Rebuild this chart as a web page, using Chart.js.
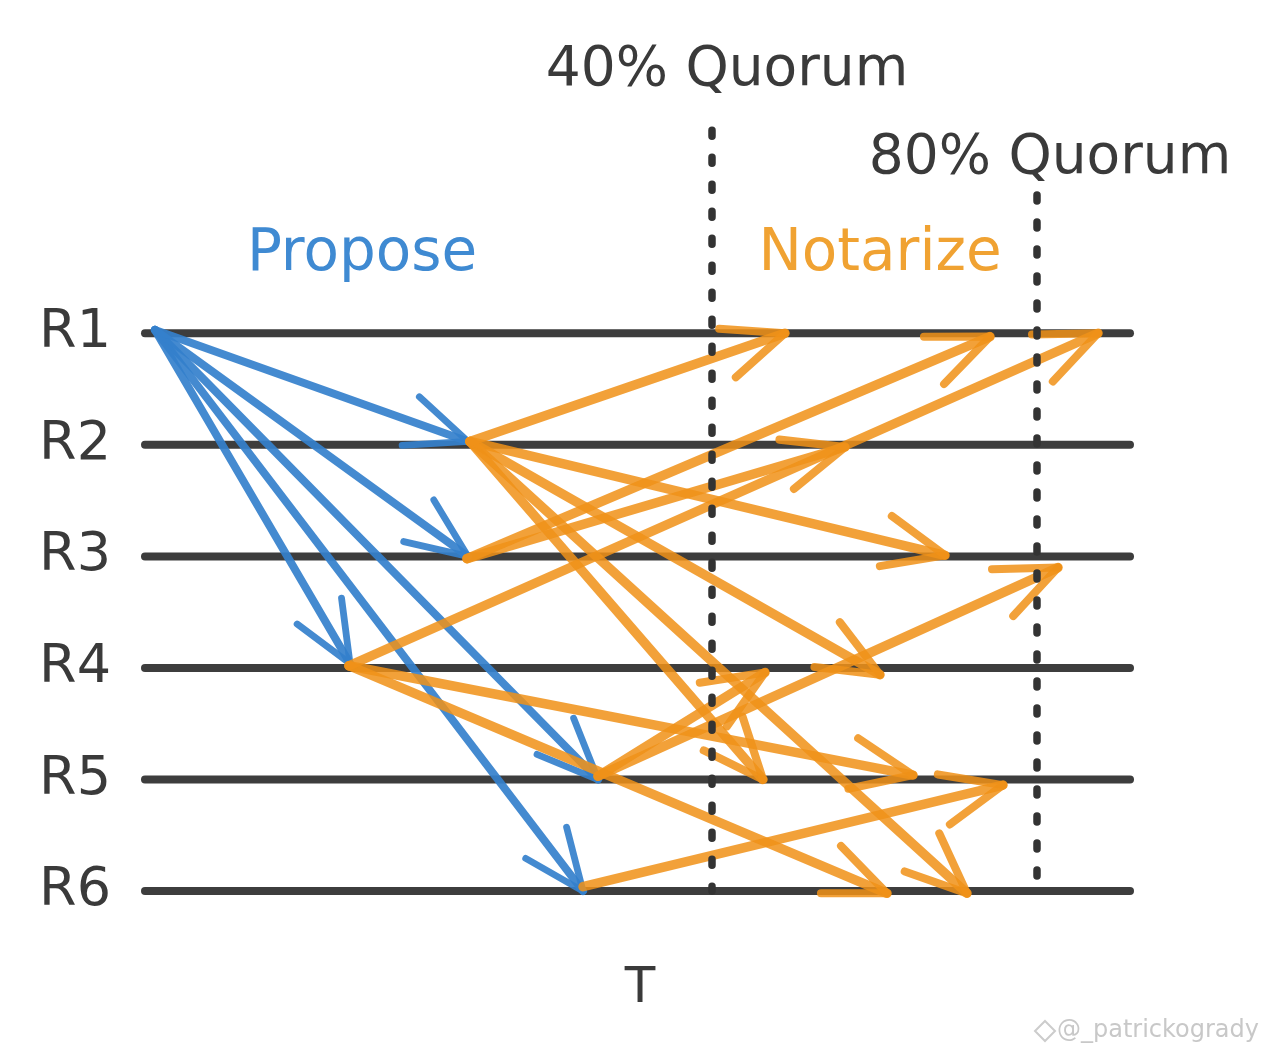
<!DOCTYPE html>
<html>
<head>
<meta charset="utf-8">
<script src="https://cdn.jsdelivr.net/npm/chart.js@4.4.1/dist/chart.umd.min.js"></script>
<style>
  html, body { margin: 0; padding: 0; background: #ffffff; }
  #wrap { width: 1267px; height: 1056px; position: relative; }
</style>
</head>
<body>
<div id="wrap"><canvas id="c"></canvas></div>
<script>
// ---------- data (time units on x, replica rows on y) ----------
const replicas = ['R1', 'R2', 'R3', 'R4', 'R5', 'R6'];

// Propose: leader R1 sends block to every other replica
const proposeFromT = 0.05;
const proposeFromRow = 0.97;
const proposeToT   = [3.18, 3.18, 2.00, 4.48, 4.33];
const proposeToRow = [1.97, 3.00, 3.96, 5.00, 6.00];

// Notarize votes: sender -> receiver
const voteSendT   = [3.20, 3.20, 3.20, 3.20, 3.20, 3.17, 3.17, 1.99, 1.99, 1.99, 4.48, 4.48, 4.33];
const voteSendRow = [1.97, 1.97, 1.97, 1.97, 1.97, 3.02, 3.02, 3.98, 3.98, 3.98, 4.97, 4.97, 5.96];
const voteRecvT   = [6.35, 7.95, 7.30, 6.13, 8.17, 8.40, 6.95, 9.48, 7.63, 7.37, 9.08, 6.15, 8.53];
const voteRecvRow = [1.00, 2.99, 4.06, 5.00, 6.02, 1.03, 2.02, 1.00, 4.96, 6.02, 3.10, 4.04, 5.05];

// Timeline extent and quorum markers
const timelineStart = -0.05;
const timelineEnd   = 9.80;
const quorumT       = [5.62, 8.87];
const quorumTopRow  = [-0.82, -0.24];
const quorumLabels  = ['40% Quorum', '80% Quorum'];
const phaseLabels   = ['Propose', 'Notarize'];
const timeLabel     = 'T';

// ---------- styles ----------
const BLUE = 'rgba(52,128,204,0.92)';
const ORANGE = 'rgba(240,146,24,0.86)';
const DARK = '#3d3d3d';
const FONT = '"DejaVu Sans", "Noto Sans", sans-serif';

const annotations = [
  { text: quorumLabels[0], x: 5.77, y: -1.355, color: '#3a3a3a', size: 55 },
  { text: quorumLabels[1], x: 9.00, y: -0.565, color: '#3a3a3a', size: 55 },
  { text: phaseLabels[0],  x: 2.12, y: 0.30, color: '#3f8ad2', size: 58 },
  { text: phaseLabels[1],  x: 7.30, y: 0.30, color: '#f0a232', size: 58 },
  { text: timeLabel,       x: 4.90, y: 6.88, color: '#3a3a3a', size: 50 }
];

// ---------- datasets ----------
const datasets = [];

quorumT.forEach((t, i) => {
  datasets.push({
    data: [{ x: t, y: quorumTopRow[i] }, { x: t, y: 6 }],
    borderColor: '#333333', borderWidth: 7.5, borderDash: [6, 21],
    borderCapStyle: 'round', order: 0
  });
});

voteSendT.forEach((t, i) => {
  datasets.push({
    data: [{ x: t, y: voteSendRow[i] }, { x: voteRecvT[i], y: voteRecvRow[i] }],
    borderColor: ORANGE, borderWidth: 9.5, borderCapStyle: 'round',
    arrow: true, order: 1
  });
});

proposeToT.forEach((t, i) => {
  datasets.push({
    data: [{ x: proposeFromT, y: proposeFromRow }, { x: t, y: proposeToRow[i] }],
    borderColor: BLUE, borderWidth: 8, borderCapStyle: 'round',
    arrow: true, order: 2
  });
});

replicas.forEach((r, i) => {
  datasets.push({
    data: [{ x: timelineStart, y: i + 1 }, { x: timelineEnd, y: i + 1 }],
    borderColor: DARK, borderWidth: 8, borderCapStyle: 'round', order: 3
  });
});

datasets.forEach(d => {
  d.showLine = true; d.pointRadius = 0; d.pointHoverRadius = 0;
  d.fill = false; d.clip = false; d.tension = 0;
});

// ---------- plugins ----------
const arrowHeads = {
  id: 'arrowHeads',
  afterDatasetDraw(chart, args) {
    const ds = chart.data.datasets[args.index];
    if (!ds.arrow) return;
    const pts = args.meta.data;
    const a = pts[0], b = pts[pts.length - 1];
    const ang = Math.atan2(b.y - a.y, b.x - a.x);
    const L = 66, spread = 0.40;
    const ctx = chart.ctx;
    ctx.save();
    ctx.strokeStyle = ds.borderColor;
    ctx.lineWidth = ds.borderWidth * 0.85;
    ctx.lineCap = 'round';
    [-1, 1].forEach(s => {
      const th = ang + Math.PI + s * spread;
      ctx.beginPath();
      ctx.moveTo(b.x, b.y);
      ctx.lineTo(b.x + L * Math.cos(th), b.y + L * Math.sin(th));
      ctx.stroke();
    });
    ctx.restore();
  }
};

const textLabels = {
  id: 'textLabels',
  afterDraw(chart) {
    const ctx = chart.ctx;
    const xs = chart.scales.x, ys = chart.scales.y;
    ctx.save();
    ctx.textAlign = 'center';
    ctx.textBaseline = 'middle';
    annotations.forEach(a => {
      ctx.font = a.size + 'px ' + FONT;
      ctx.fillStyle = a.color;
      ctx.fillText(a.text, xs.getPixelForValue(a.x), ys.getPixelForValue(a.y));
    });
    // watermark
    ctx.font = '24px ' + FONT;
    ctx.textAlign = 'right';
    ctx.fillStyle = '#c8c8c8';
    ctx.fillText('@_patrickogrady', chart.width - 8, chart.height - 25);
    const cx = chart.width - 222, cy = chart.height - 25;
    ctx.strokeStyle = '#cccccc'; ctx.lineWidth = 2;
    ctx.beginPath();
    ctx.moveTo(cx, cy - 10); ctx.lineTo(cx + 10, cy); ctx.lineTo(cx, cy + 10); ctx.lineTo(cx - 10, cy); ctx.closePath();
    ctx.stroke();
    ctx.restore();
  }
};

new Chart(document.getElementById('c'), {
  type: 'scatter',
  data: { datasets },
  options: {
    responsive: true,
    maintainAspectRatio: false,
    animation: false,
    layout: { padding: 0 },
    plugins: { legend: { display: false }, tooltip: { enabled: false } },
    events: [],
    scales: {
      x: { type: 'linear', display: false, min: -0.25, max: 11.17 },
      y: {
        type: 'linear', reverse: true, min: -1.987, max: 7.478,
        grid: { display: false }, border: { display: false },
        afterBuildTicks(scale) { scale.ticks = replicas.map((r, i) => ({ value: i + 1 })); },
        afterFit(scale) {
          scale.width = 125;
          scale.paddingTop = 0; scale.paddingBottom = 0;
          scale.paddingLeft = 0; scale.paddingRight = 0;
        },
        ticks: {
          padding: 6,
          color: '#3a3a3a',
          font: { family: FONT, size: 54 },
          callback: (v) => replicas[v - 1]
        }
      }
    }
  },
  plugins: [arrowHeads, textLabels]
});
</script>
</body>
</html>
